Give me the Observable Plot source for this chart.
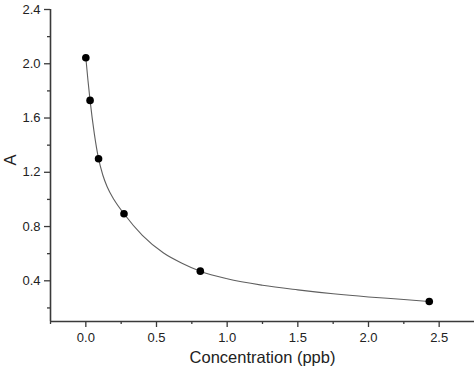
<!DOCTYPE html>
<html>
<head>
<meta charset="utf-8">
<script src="https://cdn.jsdelivr.net/npm/d3@7"></script>
<script src="https://cdn.jsdelivr.net/npm/@observablehq/plot@0.6"></script>
<style>
  body { margin: 0; background: #fff; }
  #chart svg { display: block; }
</style>
</head>
<body>
<div id="chart"></div>
<script>
// Measured points
const conc = [0, 0.03, 0.09, 0.27, 0.81, 2.43];
const absorb = [2.044, 1.73, 1.30, 0.894, 0.471, 0.247];

// Fitted curve
const fitX = [0, 0.015, 0.03, 0.06, 0.09, 0.12, 0.15, 0.2, 0.27, 0.4, 0.55, 0.68, 0.81, 1.0, 1.25, 1.5, 1.75, 2.0, 2.25, 2.43];
const fitY = [2.044, 1.878, 1.73, 1.485, 1.30, 1.18, 1.095, 0.997, 0.894, 0.735, 0.605, 0.53, 0.471, 0.415, 0.367, 0.333, 0.304, 0.281, 0.2625, 0.247];

// Axes
const xDomain = [-0.25, 2.75];
const yDomain = [0.1, 2.4];
const xTicks = [0, 0.5, 1.0, 1.5, 2.0, 2.5];
const xMinor = [-0.25, 0.25, 0.75, 1.25, 1.75, 2.25];
const yTicks = [0.4, 0.8, 1.2, 1.6, 2.0, 2.4];
const yMinor = [0.2, 0.6, 1.0, 1.4, 1.8, 2.2];
const xLabel = "Concentration (ppb)";
const yLabel = "A";

const points = conc.map((c, i) => ({x: c, y: absorb[i]}));
const fit = fitX.map((c, i) => ({x: c, y: fitY[i]}));

const axisColor = "#3a3a3a";
const fmt = d3.format(".1f");

const chart = Plot.plot({
  width: 474,
  height: 373,
  marginLeft: 50,
  marginRight: 0,
  marginTop: 9,
  marginBottom: 52,
  style: {background: "#fff", fontFamily: "'Liberation Sans', Arial, sans-serif", color: "#222"},
  x: {domain: xDomain, axis: null},
  y: {domain: yDomain, axis: null},
  marks: [
    Plot.line(fit, {x: "x", y: "y", stroke: "#5f5f5f", strokeWidth: 1.1, curve: "monotone-x"}),
    Plot.dot(points, {x: "x", y: "y", r: 3.8, fill: "#000", stroke: "none"}),
    Plot.ruleX([xDomain[0]], {stroke: axisColor, strokeWidth: 1.6}),
    Plot.ruleY([yDomain[0]], {stroke: axisColor, strokeWidth: 1.6}),
    Plot.axisY({ticks: yTicks, tickSize: 6, tickPadding: 4, tickFormat: fmt, fontSize: 13, stroke: axisColor, strokeWidth: 1.3, fill: "#222", label: null}),
    Plot.axisY({ticks: yMinor, tickSize: 3, text: null, stroke: axisColor, strokeWidth: 1.3, label: null}),
    Plot.axisX({ticks: xTicks, tickSize: 6, tickPadding: 5, tickFormat: fmt, fontSize: 13, stroke: axisColor, strokeWidth: 1.3, fill: "#222", label: null}),
    Plot.axisX({ticks: xMinor, tickSize: 3, text: null, stroke: axisColor, strokeWidth: 1.3, label: null}),
    Plot.text([yLabel], {frameAnchor: "left", rotate: -90, dx: -40, fontSize: 16.5, fill: "#222"}),
    Plot.text([xLabel], {frameAnchor: "bottom", dy: 41, fontSize: 16.5, fill: "#222"})
  ]
});
document.getElementById("chart").appendChild(chart);
</script>
</body>
</html>
